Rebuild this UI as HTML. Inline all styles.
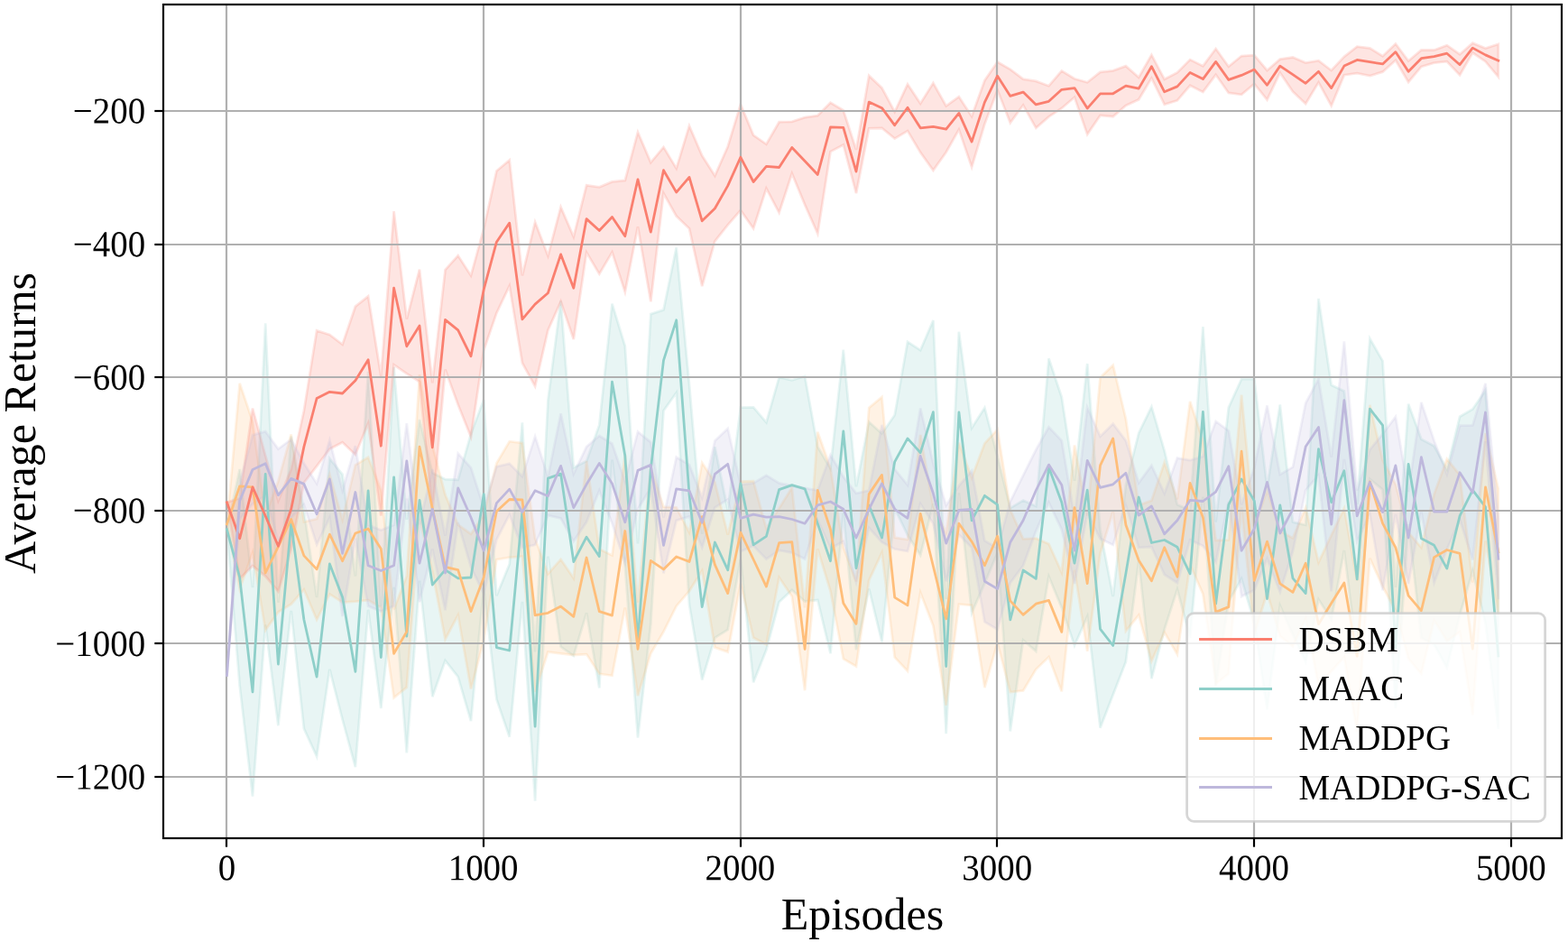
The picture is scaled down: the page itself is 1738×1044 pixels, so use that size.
<!DOCTYPE html>
<html lang="en"><head><meta charset="utf-8"><title>Average Returns vs Episodes</title>
<style>html,body{margin:0;padding:0;background:#fff;}body{width:1738px;height:1044px;overflow:hidden;}svg{display:block;}text{font-family:"Liberation Serif","DejaVu Serif",serif;fill:#000;}</style>
</head><body>
<svg width="1738" height="1044" viewBox="0 0 1738 1044">
<rect width="1738" height="1044" fill="#fff"/>
<defs><clipPath id="ax"><rect x="181" y="5" width="1550" height="924"/></clipPath></defs>
<g clip-path="url(#ax)" stroke-linejoin="miter" stroke-miterlimit="4">
<polygon points="251.5,586.8 265.7,520 280,651.2 294.2,358.4 308.4,667.8 322.7,483.6 336.9,566 351.1,662 365.4,508.2 379.6,525.9 393.9,638.5 408.1,411.8 422.3,672 436.6,406.8 450.8,575.9 465,465 479.3,524 493.5,531.2 507.7,531.7 522,480.8 536.2,443 550.4,660.2 564.7,625.3 578.9,468.4 593.1,722.5 607.4,443.5 621.6,333.4 635.8,518.2 650.1,511.1 664.3,470.9 678.5,336.7 692.8,383.5 707,602.4 721.3,348.1 735.5,343.4 749.7,274.3 764,426 778.2,591.7 792.4,495.2 806.7,565.4 820.9,451.7 835.1,451.4 849.4,468.2 863.6,418.1 877.8,421.4 892.1,417 906.3,495.3 920.5,519.1 934.8,387.6 949,539.3 963.2,467.6 977.5,480.5 991.7,460 1006,378.8 1020.2,388.1 1034.4,355.1 1048.7,663.9 1062.9,367.6 1077.1,474.2 1091.4,452 1105.6,505.8 1119.8,563.1 1134.1,554.5 1148.3,561 1162.5,397.3 1176.8,440.2 1191,532.9 1205.2,403 1219.5,587.5 1233.7,661 1247.9,537.3 1262.2,480 1276.4,450.8 1290.7,499.6 1304.9,559.2 1319.1,565.2 1333.4,362.1 1347.6,578.5 1361.8,451.7 1376.1,420.2 1390.3,420.2 1404.5,540.4 1418.8,448.5 1433,578.5 1447.2,581.8 1461.5,330.9 1475.7,426.8 1489.9,433.5 1504.2,558.8 1518.4,375.4 1532.6,400.1 1546.9,651 1561.1,447.7 1575.4,486.8 1589.6,494.3 1603.8,520.1 1618.1,461.7 1632.3,453.5 1646.5,432.7 1660.8,646 1660.8,808 1646.5,690.9 1632.3,632.7 1618.1,681.7 1603.8,740.1 1589.6,714.3 1575.4,706.8 1561.1,580.9 1546.9,785 1532.6,542.7 1518.4,531 1504.2,724.8 1489.9,610.1 1475.7,686.8 1461.5,664.3 1447.2,733.4 1433,703.3 1418.8,671.1 1404.5,786.6 1390.3,690 1376.1,641.6 1361.8,666.9 1347.6,759.9 1333.4,550.7 1319.1,706.6 1304.9,653.3 1290.7,697.4 1276.4,752.2 1262.2,622 1247.9,733.5 1233.7,770 1219.5,806.7 1205.2,683.2 1191,715.5 1176.8,673.4 1162.5,638.9 1148.3,721.8 1134.1,709.5 1119.8,810.5 1105.6,612.8 1091.4,646.6 1077.1,679.3 1062.9,546.4 1048.7,813.1 1034.4,558.3 1020.2,615.3 1006,593 991.7,563.6 977.5,711.5 963.2,652.6 949,720.1 934.8,568.4 920.5,724.3 906.3,665.1 892.1,666.5 877.8,653.9 863.6,667.2 849.4,720.3 835.1,756.3 820.9,620.1 806.7,698 792.4,706.8 778.2,753.5 764,670 749.7,435.3 735.5,455.2 721.3,692.1 707,817.6 692.8,626.7 678.5,509.7 664.3,762.5 650.1,679.3 635.8,726.8 621.6,716.8 607.4,616.7 593.1,887.7 578.9,666.8 564.7,816.7 550.4,775 536.2,652.2 522,799.2 507.7,750.1 493.5,732.2 479.3,772.2 465,643.6 450.8,834.3 436.6,650.8 422.3,785 408.1,675.8 393.9,850.1 379.6,797.5 365.4,741.8 351.1,838.4 336.9,807.6 322.7,676.8 308.4,804.2 294.2,692.4 280,882.6 265.7,760 251.5,586.8" fill="#8ECFC9" fill-opacity="0.2" stroke="#8ECFC9" stroke-opacity="0.2" stroke-width="2.78"/>
<polygon points="251.5,581 265.7,424.8 280,467 294.2,571.6 308.4,533.2 322.7,481.4 336.9,578.4 351.1,575 365.4,526 379.6,575.8 393.9,515.3 408.1,506.9 422.3,543.2 436.6,675.3 450.8,638.5 465,415.2 479.3,493.6 493.5,548.3 507.7,581.6 522,591.7 536.2,570.4 550.4,513.4 564.7,489.2 578.9,490.9 593.1,596.7 607.4,636 621.6,619.9 635.8,640.8 650.1,510.9 664.3,608.4 678.5,615.4 692.8,503.6 707,667.6 721.3,518.5 735.5,561.7 749.7,562.3 764,589.9 778.2,512.9 792.4,534.2 806.7,592.6 820.9,533.7 835.1,533.2 849.4,585.9 863.6,563.2 877.8,540.5 892.1,673.4 906.3,478.7 920.5,518.5 934.8,606.6 949,644.3 963.2,452 977.5,440.1 991.7,595.7 1006,598 1020.2,481.9 1034.4,561.6 1048.7,590.1 1062.9,490.7 1077.1,529.5 1091.4,491.4 1105.6,476.1 1119.8,564.7 1134.1,597.3 1148.3,596.6 1162.5,602.7 1176.8,634.5 1191,493.4 1205.2,571.6 1219.5,418.5 1233.7,404.8 1247.9,464.3 1262.2,560 1276.4,554.7 1290.7,512.6 1304.9,553.3 1319.1,445 1333.4,488.5 1347.6,598.8 1361.8,598.4 1376.1,437.7 1390.3,583.8 1404.5,543.4 1418.8,588.5 1433,596.4 1447.2,562.6 1461.5,623.2 1475.7,593 1489.9,563.5 1504.2,643.6 1518.4,448.8 1532.6,510.1 1546.9,536.8 1561.1,590.1 1575.4,606.8 1589.6,547.6 1603.8,508.7 1618.1,526.3 1632.3,645.5 1646.5,480 1660.8,541.8 1660.8,681.8 1646.5,599.6 1632.3,792.5 1618.1,700.5 1603.8,710.3 1589.6,687.6 1575.4,746.8 1561.1,730.1 1546.9,676.8 1532.6,650.1 1518.4,618.8 1504.2,811 1489.9,728.3 1475.7,744 1461.5,760.2 1447.2,685.8 1433,716.4 1418.8,705.1 1404.5,656.8 1390.3,703 1376.1,562.5 1361.8,746.8 1347.6,758 1333.4,658.5 1319.1,625.8 1304.9,725.1 1290.7,701 1276.4,732.7 1262.2,681.8 1247.9,699.3 1233.7,567 1219.5,613.3 1205.2,721.8 1191,631.8 1176.8,766.3 1162.5,728.1 1148.3,741.8 1134.1,765.5 1119.8,767.1 1105.6,712.5 1091.4,762 1077.1,670.9 1062.9,669.7 1048.7,781.7 1034.4,693.4 1020.2,656.7 1006,743.8 991.7,728.5 977.5,612.6 963.2,643.2 949,738.5 934.8,730.2 920.5,655.1 906.3,608.3 892.1,765.2 877.8,660.9 863.6,640 849.4,714.3 835.1,706.8 820.9,646.7 806.7,722.6 792.4,717.6 778.2,632.5 764,655.1 749.7,671.7 735.5,700.1 721.3,724.3 707,771 692.8,673.4 678.5,748.8 664.3,746.8 650.1,725.1 635.8,726 621.6,724.3 607.4,722.6 593.1,766.9 578.9,616.7 564.7,617.8 550.4,620.2 536.2,709.6 522,763.5 507.7,681.8 493.5,708.5 479.3,633.4 465,575 450.8,761.7 436.6,773.3 422.3,673.4 408.1,665.1 393.9,666.7 379.6,667.6 365.4,658.4 351.1,686.8 336.9,653.4 322.7,669.6 308.4,678.4 294.2,698.4 280,612.6 265.7,652.8 251.5,581" fill="#FFBE7A" fill-opacity="0.2" stroke="#FFBE7A" stroke-opacity="0.2" stroke-width="2.78"/>
<polygon points="251.5,556.8 265.7,552 280,452.5 294.2,505 308.4,555 322.7,520 336.9,455.2 351.1,366.4 365.4,370.9 379.6,381.8 393.9,339.7 408.1,328.4 422.3,416.8 436.6,234.1 450.8,353.6 465,298.6 479.3,424.3 493.5,299.1 507.7,283.3 522,305.4 536.2,253.4 550.4,189.4 564.7,177.4 578.9,305.4 593.1,246.1 607.4,283.5 621.6,229.6 635.8,262.4 650.1,205.4 664.3,207.4 678.5,201.4 692.8,199.9 707,146.4 721.3,180.1 735.5,163.1 749.7,186.6 764,139.5 778.2,172.5 792.4,194.7 806.7,162.5 820.9,115.6 835.1,149.8 849.4,159.8 863.6,135.2 877.8,134.8 892.1,130.1 906.3,128.1 920.5,113.8 934.8,122.3 949,165.9 963.2,83.9 977.5,97.4 991.7,124 1006,93.3 1020.2,114.7 1034.4,92 1048.7,117.5 1062.9,107.2 1077.1,128.9 1091.4,89.2 1105.6,68.7 1119.8,76.8 1134.1,87.7 1148.3,89.9 1162.5,95.2 1176.8,78.6 1191,87.3 1205.2,91.3 1219.5,79.9 1233.7,78.3 1247.9,73.2 1262.2,85.8 1276.4,60.8 1290.7,87.8 1304.9,80.4 1319.1,66.1 1333.4,73.2 1347.6,54 1361.8,73.8 1376.1,62 1390.3,61.2 1404.5,78 1418.8,65.6 1433,63.5 1447.2,69.6 1461.5,67.2 1475.7,78 1489.9,62.9 1504.2,51.6 1518.4,53.4 1532.6,62.2 1546.9,48.5 1561.1,67.6 1575.4,55.5 1589.6,55.5 1603.8,50.2 1618.1,60.2 1632.3,47.7 1646.5,53.5 1660.8,48.9 1660.8,85.2 1646.5,68.2 1632.3,58.5 1618.1,83.2 1603.8,68.2 1589.6,69.7 1575.4,73.9 1561.1,91 1546.9,66.8 1532.6,79.7 1518.4,84 1504.2,81.2 1489.9,83.2 1475.7,117.2 1461.5,91.4 1447.2,115 1433,101.6 1418.8,80.6 1404.5,110.6 1390.3,92.9 1376.1,104.9 1361.8,103 1347.6,82.8 1333.4,101.9 1319.1,94.8 1304.9,111.4 1290.7,115.8 1276.4,86.6 1262.2,110.3 1247.9,116.9 1233.7,129.2 1219.5,127.9 1205.2,148.9 1191,107.8 1176.8,120 1162.5,129.4 1148.3,141.9 1134.1,116.5 1119.8,136.1 1105.6,99.8 1091.4,137.6 1077.1,185.2 1062.9,143.6 1048.7,168.7 1034.4,188.8 1020.2,168.9 1006,145.1 991.7,153.6 977.5,142 963.2,142.3 949,214.2 934.8,160.5 920.5,168.1 906.3,258.9 892.1,226.9 877.8,192.2 863.6,235.8 849.4,208.9 835.1,253.2 820.9,233.1 806.7,249.3 792.4,267.3 778.2,317.1 764,253.3 749.7,239.6 735.5,214.2 721.3,334.3 707,251.2 692.8,323.7 678.5,279.6 664.3,303.6 650.1,279.8 635.8,376 621.6,334.2 607.4,365.9 593.1,428.1 578.9,402.2 564.7,316.8 550.4,346.9 536.2,388.4 522,484.2 507.7,448.5 493.5,409.5 479.3,567.5 465,423.1 450.8,414.1 436.6,404.3 422.3,571.6 408.1,469.2 393.9,503.9 379.6,490.2 365.4,497.7 351.1,516.6 336.9,535 322.7,608.6 308.4,655.4 294.2,638.6 280,627.1 265.7,641.6 251.5,556.8" fill="#FA7F6F" fill-opacity="0.2" stroke="#FA7F6F" stroke-opacity="0.2" stroke-width="2.78"/>
<polygon points="251.5,748.5 265.7,535 280,482.2 294.2,478.2 308.4,497.5 322.7,487 336.9,513.4 351.1,536 365.4,488 379.6,543.5 393.9,494.2 408.1,581.7 422.3,587.5 436.6,581.7 450.8,469.2 465,581.2 479.3,520 493.5,593.7 507.7,502.6 522,518.4 536.2,562.4 550.4,517.1 564.7,513.8 578.9,528.1 593.1,483.7 607.4,528.4 621.6,458.4 635.8,525.1 650.1,495.1 664.3,483 678.5,491.7 692.8,533.4 707,478.4 721.3,490.1 735.5,573.5 749.7,506.7 764,515.1 778.2,551.8 792.4,488.4 806.7,475 820.9,537.3 835.1,535.4 849.4,526.8 863.6,535.4 877.8,538.4 892.1,540.9 906.3,543.5 920.5,504.2 934.8,528.4 949,546.8 963.2,543.5 977.5,470.9 991.7,520.1 1006,537.6 1020.2,452.5 1034.4,513.4 1048.7,560.1 1062.9,538.4 1077.1,521.8 1091.4,599.2 1105.6,607.6 1119.8,556 1134.1,526.8 1148.3,498.4 1162.5,473.4 1176.8,488.4 1191,573.5 1205.2,451.7 1219.5,483.7 1233.7,469.7 1247.9,488.4 1262.2,535.1 1276.4,515.9 1290.7,546.8 1304.9,507.6 1319.1,510.1 1333.4,505.9 1347.6,467 1361.8,477.5 1376.1,559.3 1390.3,518.1 1404.5,449.4 1418.8,525.9 1433,517.6 1447.2,446.8 1461.5,420.2 1475.7,506.7 1489.9,378.4 1504.2,543.5 1518.4,498.4 1532.6,480.9 1546.9,461.9 1561.1,545.1 1575.4,446 1589.6,488.4 1603.8,525.4 1618.1,471.7 1632.3,471.4 1646.5,424.8 1660.8,574.2 1660.8,664.2 1646.5,489.2 1632.3,620.6 1618.1,575.9 1603.8,608.8 1589.6,645.8 1575.4,567.4 1561.1,646.9 1546.9,569.9 1532.6,654.3 1518.4,570.2 1504.2,600.1 1489.9,509 1475.7,655.3 1461.5,526.6 1447.2,543.4 1433,611 1418.8,656.1 1404.5,619.2 1390.3,653.9 1376.1,661.1 1361.8,556.1 1347.6,623.2 1333.4,605.1 1319.1,598.5 1304.9,646 1290.7,636.8 1276.4,606.1 1262.2,606.9 1247.9,560.2 1233.7,603.9 1219.5,597.1 1205.2,569.1 1191,646.9 1176.8,586.8 1162.5,556.8 1148.3,588.6 1134.1,626.8 1119.8,646 1105.6,697.6 1091.4,689.2 1077.1,606.8 1062.9,592.6 1048.7,644.3 1034.4,580.2 1020.2,558.3 1006,611 991.7,608.5 977.5,600.9 963.2,585.1 949,645.2 934.8,600.2 920.5,607.8 906.3,576.1 892.1,619.5 877.8,612.6 863.6,610 849.4,619.6 835.1,604.8 820.9,611.3 806.7,553.6 792.4,562.4 778.2,606.8 764,572.5 749.7,576.9 735.5,635.3 721.3,540.7 707,564.4 692.8,624.2 678.5,580.1 664.3,543.8 650.1,578.5 635.8,600.1 621.6,574.4 607.4,571.2 593.1,603.9 578.9,607.1 564.7,570.4 550.4,598.1 536.2,658 522,628.6 507.7,579.2 493.5,676.3 479.3,608.6 465,667.2 450.8,552.6 436.6,671.7 422.3,677.5 408.1,671.7 393.9,596.8 379.6,683.1 365.4,573.8 351.1,603.6 336.9,559.4 322.7,573.8 308.4,600.1 294.2,549.4 280,558.6 265.7,575.2 251.5,748.5" fill="#BEB8DC" fill-opacity="0.2" stroke="#BEB8DC" stroke-opacity="0.2" stroke-width="2.78"/>
</g>
<g stroke="#b0b0b0" stroke-width="2.2" fill="none">
<line x1="251" y1="5" x2="251" y2="929"/>
<line x1="536" y1="5" x2="536" y2="929"/>
<line x1="821" y1="5" x2="821" y2="929"/>
<line x1="1105" y1="5" x2="1105" y2="929"/>
<line x1="1390" y1="5" x2="1390" y2="929"/>
<line x1="1675" y1="5" x2="1675" y2="929"/>
<line x1="181" y1="123" x2="1731" y2="123"/>
<line x1="181" y1="271" x2="1731" y2="271"/>
<line x1="181" y1="418" x2="1731" y2="418"/>
<line x1="181" y1="566" x2="1731" y2="566"/>
<line x1="181" y1="713" x2="1731" y2="713"/>
<line x1="181" y1="861" x2="1731" y2="861"/>
</g>
<g clip-path="url(#ax)" fill="none" stroke-width="2.78" stroke-linejoin="round" stroke-linecap="square">
<polyline points="251.5,586.8 265.7,640 280,766.9 294.2,525.4 308.4,736 322.7,580.2 336.9,686.8 351.1,750.2 365.4,625 379.6,661.7 393.9,744.3 408.1,543.8 422.3,728.5 436.6,528.8 450.8,705.1 465,554.3 479.3,648.1 493.5,631.7 507.7,640.9 522,640 536.2,547.6 550.4,717.6 564.7,721 578.9,567.6 593.1,805.1 607.4,530.1 621.6,525.1 635.8,622.5 650.1,595.2 664.3,616.7 678.5,423.2 692.8,505.1 707,710 721.3,520.1 735.5,399.3 749.7,354.8 764,548 778.2,672.6 792.4,601 806.7,631.7 820.9,535.9 835.1,603.9 849.4,594.3 863.6,542.6 877.8,537.6 892.1,541.8 906.3,580.2 920.5,621.7 934.8,478 949,629.7 963.2,560.1 977.5,596 991.7,511.8 1006,485.9 1020.2,501.7 1034.4,456.7 1048.7,738.5 1062.9,457 1077.1,576.8 1091.4,549.3 1105.6,559.3 1119.8,686.8 1134.1,632 1148.3,641.4 1162.5,518.1 1176.8,556.8 1191,624.2 1205.2,543.1 1219.5,697.1 1233.7,715.5 1247.9,635.4 1262.2,551 1276.4,601.5 1290.7,598.5 1304.9,606.3 1319.1,635.9 1333.4,456.4 1347.6,669.2 1361.8,559.3 1376.1,530.9 1390.3,555.1 1404.5,663.5 1418.8,559.8 1433,640.9 1447.2,657.6 1461.5,497.6 1475.7,556.8 1489.9,521.8 1504.2,641.8 1518.4,453.2 1532.6,471.4 1546.9,718 1561.1,514.3 1575.4,596.8 1589.6,604.3 1603.8,630.1 1618.1,571.7 1632.3,543.1 1646.5,561.8 1660.8,727" stroke="#8ECFC9"/>
<polyline points="251.5,581 265.7,538.8 280,539.8 294.2,635 308.4,605.8 322.7,575.5 336.9,615.9 351.1,630.9 365.4,592.2 379.6,621.7 393.9,591 408.1,586 422.3,608.3 436.6,724.3 450.8,700.1 465,495.1 479.3,563.5 493.5,628.4 507.7,631.7 522,677.6 536.2,640 550.4,566.8 564.7,553.5 578.9,553.8 593.1,681.8 607.4,679.3 621.6,672.1 635.8,683.4 650.1,618 664.3,677.6 678.5,682.1 692.8,588.5 707,719.3 721.3,621.4 735.5,630.9 749.7,617 764,622.5 778.2,572.7 792.4,625.9 806.7,657.6 820.9,590.2 835.1,620 849.4,650.1 863.6,601.6 877.8,600.7 892.1,719.3 906.3,543.5 920.5,586.8 934.8,668.4 949,691.4 963.2,547.6 977.5,526.4 991.7,662.1 1006,670.9 1020.2,569.3 1034.4,627.5 1048.7,685.9 1062.9,580.2 1077.1,600.2 1091.4,626.7 1105.6,594.3 1119.8,665.9 1134.1,681.4 1148.3,669.2 1162.5,665.4 1176.8,700.4 1191,562.6 1205.2,646.7 1219.5,515.9 1233.7,485.9 1247.9,581.8 1262.2,620.9 1276.4,643.7 1290.7,606.8 1304.9,639.2 1319.1,535.4 1333.4,573.5 1347.6,678.4 1361.8,672.6 1376.1,500.1 1390.3,643.4 1404.5,600.1 1418.8,646.8 1433,656.4 1447.2,624.2 1461.5,691.7 1475.7,668.5 1489.9,645.9 1504.2,727.3 1518.4,533.8 1532.6,580.1 1546.9,606.8 1561.1,660.1 1575.4,676.8 1589.6,617.6 1603.8,609.5 1618.1,613.4 1632.3,719 1646.5,539.8 1660.8,611.8" stroke="#FFBE7A"/>
<polyline points="251.5,556.8 265.7,596.8 280,539.8 294.2,571.8 308.4,605.2 322.7,564.3 336.9,495.1 351.1,441.5 365.4,434.3 379.6,436 393.9,421.8 408.1,398.8 422.3,494.2 436.6,319.2 450.8,383.8 465,360.9 479.3,495.9 493.5,354.3 507.7,365.9 522,394.8 536.2,320.9 550.4,268.2 564.7,247.1 578.9,353.8 593.1,337.1 607.4,324.7 621.6,281.9 635.8,319.2 650.1,242.6 664.3,255.5 678.5,240.5 692.8,261.8 707,198.8 721.3,257.2 735.5,188.7 749.7,213.1 764,196.4 778.2,244.8 792.4,231 806.7,205.9 820.9,174.3 835.1,201.5 849.4,184.3 863.6,185.5 877.8,163.5 892.1,178.5 906.3,193.5 920.5,140.9 934.8,141.4 949,190.1 963.2,113.1 977.5,119.7 991.7,138.8 1006,119.2 1020.2,141.8 1034.4,140.4 1048.7,143.1 1062.9,125.4 1077.1,157.1 1091.4,113.4 1105.6,84.2 1119.8,106.4 1134.1,102.1 1148.3,115.9 1162.5,112.3 1176.8,99.3 1191,97.6 1205.2,120.1 1219.5,103.9 1233.7,103.8 1247.9,95.1 1262.2,98.1 1276.4,73.7 1290.7,101.8 1304.9,95.9 1319.1,80.4 1333.4,87.6 1347.6,68.4 1361.8,88.4 1376.1,83.4 1390.3,77.1 1404.5,94.3 1418.8,73.1 1433,82.6 1447.2,92.3 1461.5,79.3 1475.7,97.6 1489.9,73.1 1504.2,66.4 1518.4,68.7 1532.6,70.9 1546.9,57.6 1561.1,79.3 1575.4,64.7 1589.6,62.6 1603.8,59.2 1618.1,71.7 1632.3,53.1 1646.5,60.9 1660.8,67.1" stroke="#FA7F6F"/>
<polyline points="251.5,748.5 265.7,555.1 280,520.4 294.2,513.8 308.4,548.8 322.7,530.4 336.9,536.4 351.1,569.8 365.4,530.9 379.6,613.3 393.9,545.5 408.1,626.7 422.3,632.5 436.6,626.7 450.8,510.9 465,624.2 479.3,564.3 493.5,635 507.7,540.9 522,573.5 536.2,610.2 550.4,557.6 564.7,542.1 578.9,567.6 593.1,543.8 607.4,549.8 621.6,516.4 635.8,562.6 650.1,536.8 664.3,513.4 678.5,535.9 692.8,578.8 707,521.4 721.3,515.4 735.5,604.4 749.7,541.8 764,543.8 778.2,579.3 792.4,525.4 806.7,514.3 820.9,574.3 835.1,570.1 849.4,573.2 863.6,572.7 877.8,575.5 892.1,580.2 906.3,559.8 920.5,556 934.8,564.3 949,596 963.2,564.3 977.5,535.9 991.7,564.3 1006,574.3 1020.2,505.4 1034.4,546.8 1048.7,602.2 1062.9,565.5 1077.1,564.3 1091.4,644.2 1105.6,652.6 1119.8,601 1134.1,576.8 1148.3,543.5 1162.5,515.1 1176.8,537.6 1191,610.2 1205.2,510.4 1219.5,540.4 1233.7,536.8 1247.9,524.3 1262.2,571 1276.4,561 1290.7,591.8 1304.9,576.8 1319.1,554.3 1333.4,555.5 1347.6,545.1 1361.8,516.8 1376.1,610.2 1390.3,586 1404.5,534.3 1418.8,591 1433,564.3 1447.2,495.1 1461.5,473.4 1475.7,581 1489.9,443.7 1504.2,571.8 1518.4,534.3 1532.6,567.6 1546.9,515.9 1561.1,596 1575.4,506.7 1589.6,567.1 1603.8,567.1 1618.1,523.8 1632.3,546 1646.5,457 1660.8,619.2" stroke="#BEB8DC"/>
</g>
<g stroke="#000" stroke-width="2.2">
<line x1="251" y1="929" x2="251" y2="938.7"/>
<line x1="536" y1="929" x2="536" y2="938.7"/>
<line x1="821" y1="929" x2="821" y2="938.7"/>
<line x1="1105" y1="929" x2="1105" y2="938.7"/>
<line x1="1390" y1="929" x2="1390" y2="938.7"/>
<line x1="1675" y1="929" x2="1675" y2="938.7"/>
<line x1="171.3" y1="123" x2="181" y2="123"/>
<line x1="171.3" y1="271" x2="181" y2="271"/>
<line x1="171.3" y1="418" x2="181" y2="418"/>
<line x1="171.3" y1="566" x2="181" y2="566"/>
<line x1="171.3" y1="713" x2="181" y2="713"/>
<line x1="171.3" y1="861" x2="181" y2="861"/>
</g>
<rect x="181" y="5" width="1550" height="924" fill="none" stroke="#000" stroke-width="2.2" stroke-linejoin="miter"/>
<g font-size="38.9px">
<text transform="translate(251.6 975.2) rotate(0.03) scale(1 1.04)" text-anchor="middle">0</text>
<text transform="translate(535.6 975.2) rotate(0.03) scale(1 1.04)" text-anchor="middle">1000</text>
<text transform="translate(820.4 975.2) rotate(0.03) scale(1 1.04)" text-anchor="middle">2000</text>
<text transform="translate(1105.2 975.2) rotate(0.03) scale(1 1.04)" text-anchor="middle">3000</text>
<text transform="translate(1390 975.2) rotate(0.03) scale(1 1.04)" text-anchor="middle">4000</text>
<text transform="translate(1674.8 975.2) rotate(0.03) scale(1 1.04)" text-anchor="middle">5000</text>
<text transform="translate(161.1 136.6) rotate(0.03) scale(1 1.05)" text-anchor="end">−200</text>
<text transform="translate(161.1 284.2) rotate(0.03) scale(1 1.05)" text-anchor="end">−400</text>
<text transform="translate(161.1 431.8) rotate(0.03) scale(1 1.05)" text-anchor="end">−600</text>
<text transform="translate(161.1 579.4) rotate(0.03) scale(1 1.05)" text-anchor="end">−800</text>
<text transform="translate(161.1 727) rotate(0.03) scale(1 1.05)" text-anchor="end">−1000</text>
<text transform="translate(161.1 874.6) rotate(0.03) scale(1 1.05)" text-anchor="end">−1200</text>
</g>
<text x="955.9" y="1029.7" font-size="50px" text-anchor="middle">Episodes</text>
<text transform="translate(39.3 468.9) rotate(-90)" font-size="50.05px" text-anchor="middle">Average Returns</text>
<rect x="1315.6" y="679.6" width="397.05" height="230.7" rx="7.8" ry="7.8" fill="#fff" fill-opacity="0.8" stroke="#ccc" stroke-opacity="0.8" stroke-width="2.78"/>
<line x1="1329.1" y1="708.5" x2="1410" y2="708.5" stroke="#FA7F6F" stroke-width="2.9"/>
<text transform="translate(1439.5 722) scale(1 1.05)" font-size="38.9px">DSBM</text>
<line x1="1329.1" y1="763.5" x2="1410" y2="763.5" stroke="#8ECFC9" stroke-width="2.9"/>
<text transform="translate(1439.5 776.2) scale(1 1.05)" font-size="38.9px">MAAC</text>
<line x1="1329.1" y1="818.5" x2="1410" y2="818.5" stroke="#FFBE7A" stroke-width="2.9"/>
<text transform="translate(1439.5 831) scale(1 1.05)" font-size="38.9px">MADDPG</text>
<line x1="1329.1" y1="872.5" x2="1410" y2="872.5" stroke="#BEB8DC" stroke-width="2.9"/>
<text transform="translate(1439.5 886.2) scale(1 1.05)" font-size="38.9px">MADDPG-SAC</text>
</svg></body></html>
